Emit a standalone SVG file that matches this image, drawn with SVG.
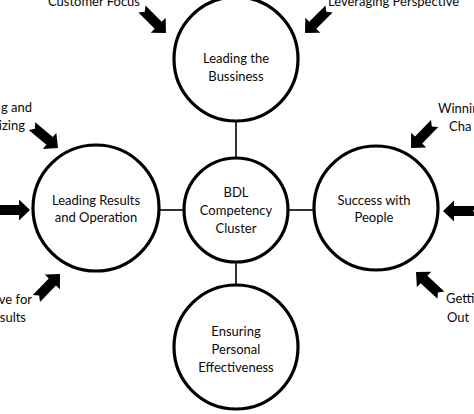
<svg xmlns="http://www.w3.org/2000/svg" width="474" height="414" viewBox="0 0 474 414">
  <style>
    .node { fill: #ffffff; stroke: #000000; stroke-width: 3.2; }
    .conn { stroke: #000000; stroke-width: 1.6; fill: none; }
    .t { font-family: Lato, "Open Sans", "DejaVu Sans", sans-serif; font-size: 13px; fill: #0a0a0a; }
    .c { text-anchor: middle; }
    .e { text-anchor: end; }
    .arrow { fill: #000000; }
  </style>
  <defs>
    <path id="arr" d="M-34,-5 L-11,-5 L-11,-10.5 L0,0 L-11,10.5 L-11,5 L-34,5 L-30,0 Z"/>
  </defs>
  <rect width="474" height="414" fill="#ffffff"/>

  <g id="connectors">
    <line class="conn" x1="236" y1="121" x2="236" y2="158"/>
    <line class="conn" x1="159" y1="210" x2="184" y2="210"/>
    <line class="conn" x1="289" y1="210" x2="315" y2="210"/>
    <line class="conn" x1="236" y1="262" x2="236" y2="285"/>
  </g>

  <g id="arrows" class="arrow">
    <use href="#arr" transform="translate(237,7) rotate(90)"/>
    <use href="#arr" transform="translate(166,33) rotate(45)"/>
    <use href="#arr" transform="translate(305,33) rotate(135)"/>
    <use href="#arr" transform="translate(58,148) rotate(40)"/>
    <use href="#arr" transform="translate(30,210) rotate(0)"/>
    <use href="#arr" transform="translate(60,274) rotate(-46)"/>
    <use href="#arr" transform="translate(411,148) rotate(134)"/>
    <use href="#arr" transform="translate(443,211) rotate(180)"/>
    <use href="#arr" transform="translate(416,272) rotate(-137)"/>
  </g>

  <g id="labels">
    <text class="t e" x="140" y="6">Customer Focus</text>
    <text class="t" x="328" y="6">Leveraging Perspective</text>
    <text class="t e" x="32" y="112">g and</text>
    <text class="t e" x="25" y="130">izing</text>
    <text class="t" x="438" y="113">Winnin</text>
    <text class="t" x="449" y="131">Cha</text>
    <text class="t e" x="32" y="304">ve for</text>
    <text class="t e" x="26" y="322">sults</text>
    <text class="t" x="446" y="303">Getti</text>
    <text class="t" x="447" y="322">Out</text>
  </g>

  <g id="node-top">
    <circle class="node" cx="236" cy="59" r="62"/>
    <text class="t c" x="236" y="63">Leading the</text>
    <text class="t c" x="236" y="81">Bussiness</text>
  </g>
  <g id="node-left">
    <circle class="node" cx="96" cy="208" r="63"/>
    <text class="t c" x="96" y="205">Leading Results</text>
    <text class="t c" x="96" y="222">and Operation</text>
  </g>
  <g id="node-center">
    <circle class="node" cx="236" cy="210" r="52"/>
    <text class="t c" x="236" y="197">BDL</text>
    <text class="t c" x="236" y="215">Competency</text>
    <text class="t c" x="236" y="233">Cluster</text>
  </g>
  <g id="node-right">
    <circle class="node" cx="376" cy="208" r="62"/>
    <text class="t c" x="374" y="205">Success with</text>
    <text class="t c" x="374" y="222">People</text>
  </g>
  <g id="node-bottom">
    <circle class="node" cx="236" cy="347" r="62"/>
    <text class="t c" x="236" y="336">Ensuring</text>
    <text class="t c" x="236" y="354">Personal</text>
    <text class="t c" x="236" y="372">Effectiveness</text>
  </g>
</svg>
